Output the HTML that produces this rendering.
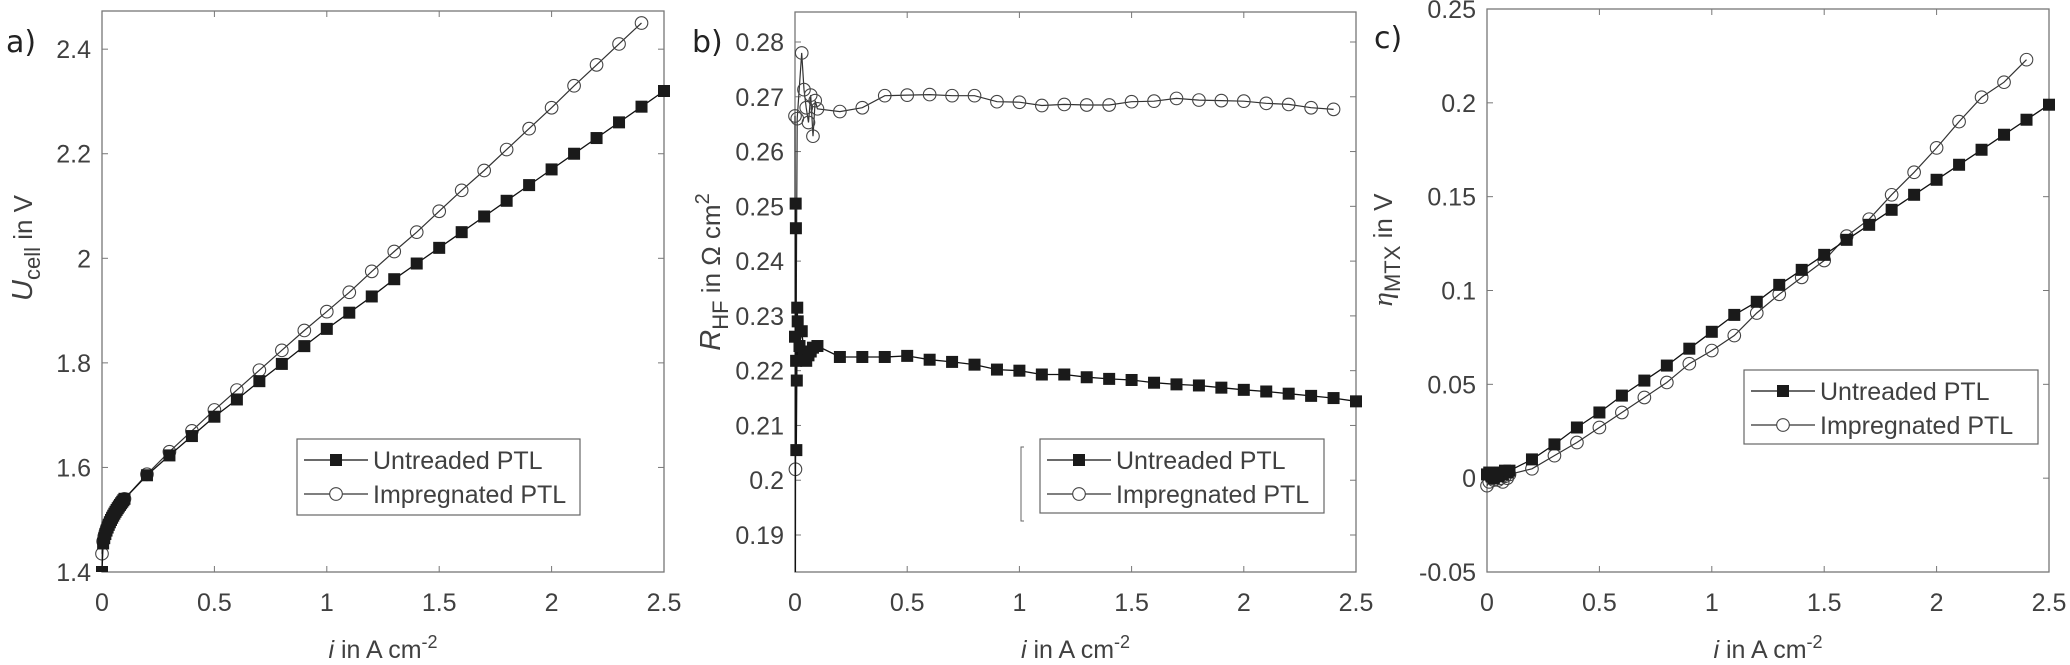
<!DOCTYPE html>
<html><head><meta charset="utf-8"><style>
html,body{margin:0;padding:0;background:#fff;}
svg{display:block;font-family:"Liberation Sans",sans-serif;}
</style></head><body>
<svg id="s" width="2070" height="665" viewBox="0 0 2070 665" xmlns="http://www.w3.org/2000/svg"></svg>
<script>
const S=document.getElementById('s');let h='';
function panel(o){
 const {L,R,T,B,y0,y1,yt,ydec,lab,labx,laby,sq,ci,leg,ylab}=o;
 const X=i=>L+i/2.5*(R-L), Y=v=>B-(v-y0)/(y1-y0)*(B-T);
 h+=`<defs><clipPath id="c${L}"><rect x="${L-8}" y="${T}" width="${R-L+16}" height="${B-T}"/></clipPath></defs>`;
 for(let k=0;k<=5;k++){const x=X(k*0.5);
  h+=`<line x1="${x}" y1="${B}" x2="${x}" y2="${B-6}" stroke="#777"/><line x1="${x}" y1="${T}" x2="${x}" y2="${T+6}" stroke="#777"/>`;
  h+=`<text x="${x}" y="611" font-size="25" fill="#404040" text-anchor="middle">${[0,0.5,1,1.5,2,2.5][k]}</text>`;}
 yt.forEach(v=>{const y=Y(v);
  h+=`<line x1="${L}" y1="${y}" x2="${L+6}" y2="${y}" stroke="#777"/><line x1="${R}" y1="${y}" x2="${R-6}" y2="${y}" stroke="#777"/>`;
  h+=`<text x="${L-11}" y="${y+9}" font-size="25" fill="#404040" text-anchor="end">${ydec(v)}</text>`;});
 h+=`<rect x="${L}" y="${T}" width="${R-L}" height="${B-T}" fill="none" stroke="#777" stroke-width="1.3"/>`;
 const cx=(L+R)/2;
 h+=`<text x="${cx}" y="658" font-size="25" fill="#404040" text-anchor="middle"><tspan font-style="italic">i</tspan>  in A cm<tspan dy="-10" font-size="18">-2</tspan></text>`;
 h+=`<text x="${labx}" y="${laby}" font-size="30" fill="#222" font-family="DejaVu Sans,sans-serif">${lab}</text>`;
 h+=ylab;
 h+=`<g clip-path="url(#c${L})">`;
 let p=ci.map(d=>X(d[0]).toFixed(1)+','+Y(d[1]).toFixed(1)).join(' ');
 h+=`<polyline points="${p}" fill="none" stroke="#333" stroke-width="1.2"/>`;
 ci.forEach(d=>h+=`<circle cx="${X(d[0])}" cy="${Y(d[1])}" r="6.3" fill="none" stroke="#444" stroke-width="1.1"/>`);
 p=sq.map(d=>X(d[0]).toFixed(1)+','+Y(d[1]).toFixed(1)).join(' ');
 h+=`<polyline points="${p}" fill="none" stroke="#111" stroke-width="1.3"/>`;
 sq.forEach(d=>h+=`<rect x="${X(d[0])-6}" y="${Y(d[1])-6}" width="12" height="12" fill="#1a1a1a"/>`);
 h+=`</g>`;
 const [lx,ly,lw,lhh]=leg;
 h+=`<rect x="${lx}" y="${ly}" width="${lw}" height="${lhh}" fill="#fff" stroke="#666" stroke-width="1.2"/>`;
 const r1=ly+21,r2=ly+55;
 h+=`<line x1="${lx+7}" y1="${r1}" x2="${lx+71}" y2="${r1}" stroke="#111" stroke-width="1.2"/><rect x="${lx+33}" y="${r1-6}" width="12" height="12" fill="#1a1a1a"/>`;
 h+=`<line x1="${lx+7}" y1="${r2}" x2="${lx+71}" y2="${r2}" stroke="#333" stroke-width="1.2"/><circle cx="${lx+39}" cy="${r2}" r="6.3" fill="#fff" stroke="#444" stroke-width="1.1"/>`;
 h+=`<text x="${lx+76}" y="${r1+9}" font-size="25" fill="#404040">Untreaded PTL</text><text x="${lx+76}" y="${r2+9}" font-size="25" fill="#404040">Impregnated PTL</text>`;
}
const step=(a,b,arr)=>arr.map((v,k)=>[Math.round((a+k*b)*100)/100,v]);
let sqA=[];for(let k=0;k<=20;k++){const i=k*0.005;sqA.push([i,k==0?1.40:1.43+0.11*Math.sqrt(i/0.1)]);}
sqA=sqA.concat(step(0.2,0.1,[1.585,1.623,1.66,1.697,1.73,1.765,1.798,1.832,1.865,1.896,1.927,1.96,1.99,2.02,2.05,2.08,2.11,2.14,2.17,2.20,2.23,2.26,2.29,2.32]));
let ciA=[];for(let k=0;k<=20;k++){const i=k*0.005;ciA.push([i,1.435+0.105*Math.sqrt(i/0.1)]);}
ciA=ciA.concat(step(0.2,0.1,[1.587,1.63,1.67,1.71,1.748,1.786,1.824,1.862,1.898,1.935,1.975,2.013,2.05,2.09,2.13,2.168,2.208,2.248,2.288,2.33,2.37,2.41,2.45]));
panel({L:102,R:664,T:11,B:572,y0:1.4,y1:2.473,yt:[1.4,1.6,1.8,2,2.2,2.4],ydec:v=>v==2?'2':v.toFixed(1),lab:'a)',labx:6,laby:52,sq:sqA,ci:ciA,leg:[297,439,283,76],
 ylab:`<text transform="translate(32,248) rotate(-90)" font-size="26" fill="#404040" text-anchor="middle"><tspan font-style="italic" font-size="29">U</tspan><tspan dy="8" font-size="22">cell</tspan><tspan dy="-8"> in V</tspan></text>`});
const sqB=[[0.002,0.18],[0.003,0.2505],[0.004,0.246],[0.006,0.2055],[0.008,0.2182],[0.01,0.2315],[0.012,0.229],[0,0.2262],[0.005,0.2218],[0.02,0.2245],[0.03,0.2272],[0.04,0.2235],[0.05,0.2218],[0.06,0.2228],[0.07,0.2235],[0.08,0.2242],[0.1,0.2245]].concat(step(0.2,0.1,[.2225,.2225,.2225,.2227,.222,.2216,.2211,.2202,.22,.2193,.2193,.2188,.2185,.2183,.2178,.2175,.2173,.2169,.2165,.2162,.2158,.2154,.215,.2144]));
const ciB=[[0,0.2665],[0.002,0.202],[0.01,0.266],[0.03,0.278],[0.04,0.2713],[0.05,0.268],[0.06,0.2653],[0.07,0.2703],[0.08,0.2628],[0.09,0.2693],[0.1,0.2678]].concat(step(0.2,0.1,[.2673,.268,.2702,.2703,.2704,.2702,.2702,.2691,.269,.2684,.2686,.2685,.2685,.2691,.2692,.2697,.2694,.2693,.2692,.2688,.2686,.268,.2677]));
panel({L:795,R:1356,T:12,B:572,y0:0.19-37/54.8*0.01,y1:0.28+30/54.8*0.01,yt:[0.19,0.2,0.21,0.22,0.23,0.24,0.25,0.26,0.27,0.28],ydec:v=>v==0.2?'0.2':v.toFixed(2),lab:'b)',labx:692,laby:52,sq:sqB,ci:ciB,leg:[1040,439,284,74],
 ylab:`<text transform="translate(720,272) rotate(-90)" font-size="26" fill="#404040" text-anchor="middle"><tspan font-style="italic" font-size="29">R</tspan><tspan dy="8" font-size="22">HF</tspan><tspan dy="-8"> in Ω cm</tspan><tspan dy="-11" font-size="20">2</tspan></text>`});
h+=`<path d="M1024 447 H1021 V521 H1024" fill="none" stroke="#666" stroke-width="1"/>`;
let sqC=[];for(let k=0;k<=10;k++)sqC.push([k*0.01,[0.002,0.003,0.001,0,0.002,0.001,0.003,0.002,0.004,0.003,0.004][k]]);
sqC=sqC.concat(step(0.2,0.1,[.01,.018,.027,.035,.044,.052,.06,.069,.078,.087,.094,.103,.111,.119,.127,.135,.143,.151,.159,.167,.175,.183,.191,.199]));
let ciC=[];for(let k=0;k<=10;k++)ciC.push([k*0.01,[-0.004,-0.002,0,-0.001,0.001,-0.001,0,-0.002,0.001,0,0.002][k]]);
ciC=ciC.concat(step(0.2,0.1,[.005,.012,.019,.027,.035,.043,.051,.061,.068,.076,.088,.098,.107,.116,.129,.138,.151,.163,.176,.19,.203,.211,.223]));
panel({L:1487,R:2049,T:9,B:572,y0:-0.05,y1:0.25,yt:[-0.05,0,0.05,0.1,0.15,0.2,0.25],ydec:v=>{const r=Math.round(v*100)/100;return r==0?'0':String(r);},lab:'c)',labx:1374,laby:48,sq:sqC,ci:ciC,leg:[1744,370,294,74],
 ylab:`<text transform="translate(1392,250) rotate(-90)" font-size="26" fill="#404040" text-anchor="middle"><tspan font-style="italic" font-size="29" font-family="Liberation Serif,serif">η</tspan><tspan dy="8" font-size="22">MTX</tspan><tspan dy="-8"> in V</tspan></text>`});
S.innerHTML=h;
</script>
</body></html>
